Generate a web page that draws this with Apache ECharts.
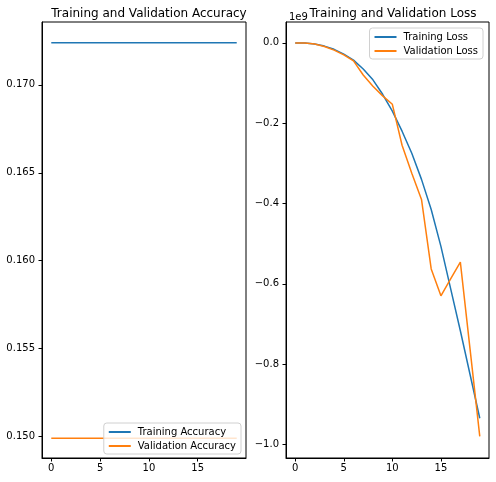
<!DOCTYPE html>
<html><head><meta charset="utf-8">
<script src="https://cdn.jsdelivr.net/npm/echarts@6/dist/echarts.min.js"></script>
<style>html,body{margin:0;padding:0;background:#fff}#c{width:496px;height:482px}</style>
</head><body><div id="c"></div>
<script>
const epochs = [0,1,2,3,4,5,6,7,8,9,10,11,12,13,14,15,16,17,18,19];
const trainAcc = [0.1724,0.1724,0.1724,0.1724,0.1724,0.1724,0.1724,0.1724,0.1724,0.1724,0.1724,0.1724,0.1724,0.1724,0.1724,0.1724,0.1724,0.1724,0.1724,0.1724];
const valAcc = [0.1499,0.1499,0.1499,0.1499,0.1499,0.1499,0.1499,0.1499,0.1499,0.1499,0.1499,0.1499,0.1499,0.1499,0.1499,0.1499,0.1499,0.1499,0.1499,0.1499];
// loss values in units of 1e9
const trainLoss = [0,-0.0005,-0.003,-0.008,-0.016,-0.028,-0.043,-0.065,-0.092,-0.128,-0.17,-0.22,-0.275,-0.34,-0.415,-0.507,-0.612,-0.717,-0.826,-0.935];
const valLoss = [0,-0.0005,-0.003,-0.009,-0.018,-0.030,-0.045,-0.080,-0.108,-0.132,-0.153,-0.255,-0.325,-0.390,-0.563,-0.630,-0.588,-0.546,-0.763,-0.980];
const xTicks = [0,5,10,15];
const accTicks = [0.150,0.155,0.160,0.165,0.170];
const lossTicks = [0.0,-0.2,-0.4,-0.6,-0.8,-1.0];

const F = 'DejaVu Sans';
const pair = (xs, ys) => xs.map((x,i)=>[x, ys[i]]);
const fmt = (d) => v => (v<0?'\u2212':'') + Math.abs(v).toFixed(d);
function xAxis(gi){
  return {type:'value', gridIndex:gi, min:-0.95, max:19.95,
    axisLine:{show:true,onZero:false,lineStyle:{color:'#000',width:1}},
    axisTick:{show:true,length:3.5,lineStyle:{color:'#000'},customValues:xTicks},
    axisLabel:{color:'#000',fontFamily:F,fontSize:10,margin:5,customValues:xTicks,formatter:v=>String(Math.round(v))},
    splitLine:{show:false}};
}
function yAxis(gi,min,max,ticks,d){
  return {type:'value', gridIndex:gi, min:min, max:max,
    axisLine:{show:true,onZero:false,lineStyle:{color:'#000',width:1}},
    axisTick:{show:true,length:3.5,lineStyle:{color:'#000'},customValues:ticks},
    axisLabel:{color:'#000',fontFamily:F,fontSize:10,margin:7,customValues:ticks,formatter:fmt(d)},
    splitLine:{show:false}};
}
const legendBase = {orient:'vertical', backgroundColor:'rgba(255,255,255,0.8)', borderColor:'#d0d0d0', borderWidth:1, borderRadius:3,
  padding:[4,5,3,5], itemGap:4, itemWidth:22, itemHeight:2, icon:'rect',
  textStyle:{fontFamily:F,fontSize:10,color:'#000',padding:[0,0,0,2]}};
const chart = echarts.init(document.getElementById('c'), null, {renderer:'canvas'});
chart.setOption({
  animation:false,
  backgroundColor:'#fff',
  title:[
    {text:'Training and Validation Accuracy', left:144, top:3, textAlign:'center', textStyle:{fontFamily:F,fontSize:12,fontWeight:'normal',color:'#000'}},
    {text:'Training and Validation Loss', left:388, top:3, textAlign:'center', textStyle:{fontFamily:F,fontSize:12,fontWeight:'normal',color:'#000'}},
    {text:'1e9', left:284, top:7, textStyle:{fontFamily:F,fontSize:10,fontWeight:'normal',color:'#000'}}
  ],
  grid:[
    {left:42, right:250, top:22, bottom:24, show:true, borderColor:'#000', borderWidth:1, backgroundColor:'transparent'},
    {left:286, right:7, top:22, bottom:24, show:true, borderColor:'#000', borderWidth:1, backgroundColor:'transparent'}
  ],
  xAxis:[xAxis(0), xAxis(1)],
  yAxis:[yAxis(0,0.148775,0.173575,accTicks,3), yAxis(1,-1.034,0.052,lossTicks,1)],
  legend:[
    Object.assign({}, legendBase, {data:['Training Accuracy','Validation Accuracy'], right:255, bottom:28}),
    Object.assign({}, legendBase, {data:['Training Loss','Validation Loss'], right:13, top:28})
  ],
  series:[
    {name:'Training Accuracy', type:'line', xAxisIndex:0, yAxisIndex:0, data:pair(epochs,trainAcc), showSymbol:false, symbol:'none', color:'#1f77b4', lineStyle:{width:1.5}},
    {name:'Validation Accuracy', type:'line', xAxisIndex:0, yAxisIndex:0, data:pair(epochs,valAcc), showSymbol:false, symbol:'none', color:'#ff7f0e', lineStyle:{width:1.5}},
    {name:'Training Loss', type:'line', xAxisIndex:1, yAxisIndex:1, data:pair(epochs,trainLoss), showSymbol:false, symbol:'none', color:'#1f77b4', lineStyle:{width:1.5}},
    {name:'Validation Loss', type:'line', xAxisIndex:1, yAxisIndex:1, data:pair(epochs,valLoss), showSymbol:false, symbol:'none', color:'#ff7f0e', lineStyle:{width:1.5}}
  ]
});
</script></body></html>
